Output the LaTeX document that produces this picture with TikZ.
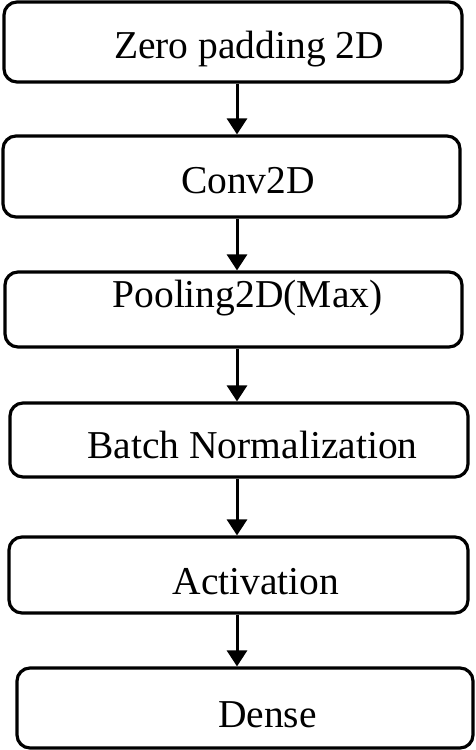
\documentclass[tikz,border=0pt]{standalone}
\usepackage{fontspec}
\setmainfont{Liberation Serif}
\usetikzlibrary{arrows.meta}
\tikzset{
  box/.style={draw=black, line width=3.2pt, rounded corners=13pt, fill=white, inner sep=0pt},
  lbl/.style={anchor=base, inner sep=0pt, font=\fontsize{39.5}{46}\selectfont},
  arr/.style={line width=3pt, -{Triangle[width=20pt,length=16pt]}}
}
\begin{document}
\begin{tikzpicture}[x=1pt,y=-1pt]
\useasboundingbox (0,0) rectangle (475,750);
\node[box, minimum width=458pt, minimum height=80pt] (b1) at (233,42) {};
\node[box, minimum width=457pt, minimum height=81pt] (b2) at (231.5,176.5) {};
\node[box, minimum width=457pt, minimum height=75pt] (b3) at (233.5,309.5) {};
\node[box, minimum width=458pt, minimum height=74pt] (b4) at (239,440) {};
\node[box, minimum width=459pt, minimum height=76pt] (b5) at (238.5,575) {};
\node[box, minimum width=456pt, minimum height=80pt] (b6) at (245,708) {};
\node[lbl] (t1) at (249,58) {Zero padding 2D};
\node[lbl] (t2) at (248,193) {Conv2D};
\node[lbl] (t3) at (247.5,307) {Pooling2D(Max)};
\node[lbl] (t4) at (252.5,458) {Batch Normalization};
\node[lbl] (t5) at (256,594) {Activation};
\node[lbl] (t6) at (267.5,727) {Dense};
\coordinate (ax) at (237,0);
\draw[arr] (b1.south -| ax) -- (b2.north -| ax);
\draw[arr] (b2.south -| ax) -- (b3.north -| ax);
\draw[arr] (b3.south -| ax) -- (b4.north -| ax);
\draw[arr] (b4.south -| ax) -- (b5.north -| ax);
\draw[arr] (b5.south -| ax) -- (b6.north -| ax);
\end{tikzpicture}
\end{document}
